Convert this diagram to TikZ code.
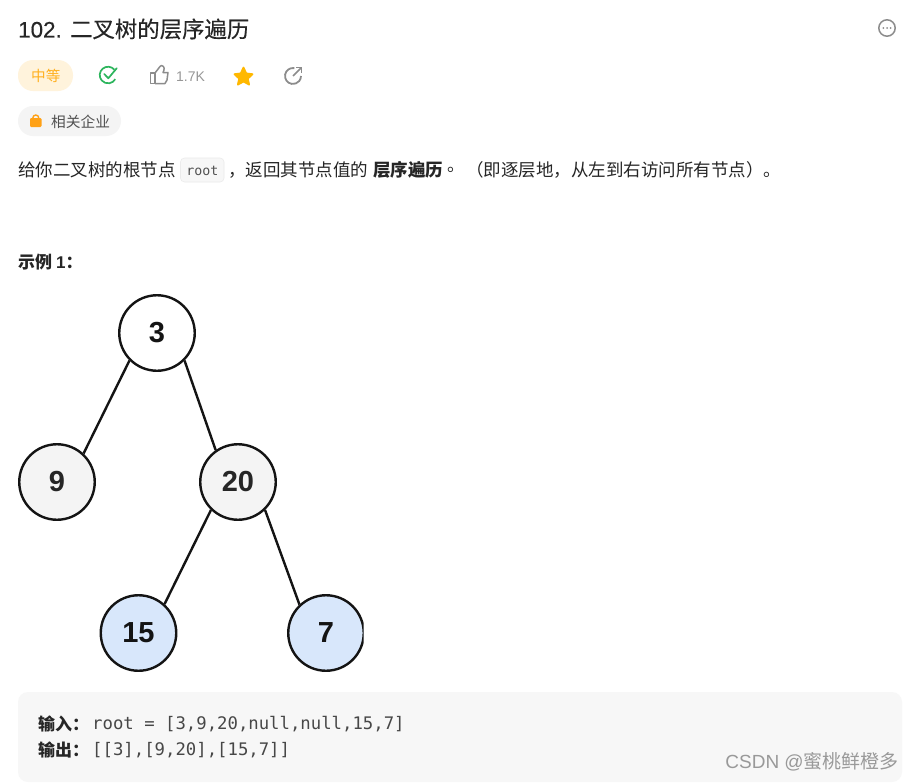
\documentclass[tikz,border=0pt]{standalone}
\usepackage{fontspec}
\setmainfont{Liberation Sans}
\newfontfamily\cjk{Noto Sans CJK SC}
\newcommand{\cjkb}{\cjk\bfseries}
\newfontfamily\mono{DejaVu Sans Mono}
\definecolor{ink}{HTML}{262626}
\definecolor{dark}{HTML}{141414}
\definecolor{gr}{HTML}{8C8C8C}
\definecolor{codebg}{HTML}{F7F7F7}
\definecolor{lblue}{HTML}{D8E7FB}
\definecolor{lgray}{HTML}{F4F4F4}
\definecolor{badge}{HTML}{FFF3DC}
\definecolor{amber}{HTML}{FFB01F}
\definecolor{star}{HTML}{FFB800}
\definecolor{okgreen}{HTML}{2DB55D}
\definecolor{lock}{HTML}{FFA116}
\tikzset{
 x=1pt,y=-1pt,
 tx/.style={anchor=west,inner sep=0pt,text=ink},
 tree/.style={circle,draw=dark,line width=2.4pt,minimum size=75.5pt,inner sep=0pt,font=\fontsize{29}{29}\selectfont\bfseries,text=dark},
 edge/.style={draw=dark,line width=2.4pt},
}
\newcommand{\fs}[1]{\fontsize{#1}{#1}\selectfont}
\begin{document}
\begin{tikzpicture}
\useasboundingbox (0,0) rectangle (913,782);
\fill[white] (0,0) rectangle (913,782);
% header
\node[tx] (title) at (18,29) {\fs{22.4}\addfontfeature{FakeBold=0.4}102. \cjk\addfontfeature{FakeBold=0.25} 二叉树的层序遍历};
\draw[gr,line width=1.5pt] (887,28) circle (8.2);
\foreach \dx in {-3.6,0,3.6}{\fill[gr] (887+\dx,28) circle (1);}
% badges
\fill[badge,rounded corners=15pt] (18,60) rectangle (73,91);
\node[tx,text=amber] (medium) at (31,76) {\fs{14.6}\cjk 中等};
% check
\draw[okgreen,line width=1.7pt] (114.4,69.7) arc (-40:-330:8.3);
\draw[okgreen,line width=1.7pt,line cap=round,line join=round] (104.3,74) -- (108.3,78.3) -- (116.7,68.3);
% thumb
\draw[gr,line width=1.5pt,line join=round] (150.5,73) rectangle (155,83.5);
\draw[gr,line width=1.5pt,line join=round] (155,73) -- (160,66.5) -- (161.5,65.5) .. controls (165,66) and (164.5,70) .. (163,72.5) -- (168,72.5) -- (167,80) -- (165,83.5) -- (155,83.5);
\node[tx,text=gr!90!white] (likes) at (176,77) {\fs{14}1.7K};
% star
\fill[star,draw=star,line width=1.8pt,line join=round] (243.5,67.5) -- (246.2,73.4) -- (252.5,74.2) -- (247.8,78.6) -- (249.1,84.6) -- (243.5,81.5) -- (237.9,84.6) -- (239.2,78.6) -- (234.5,74.2) -- (240.8,73.4) -- cycle;
% share
\draw[gr,line width=1.8pt] (294.4,68.1) arc (-80:-360:8);
\draw[gr,line width=1.6pt] (293,76) -- (301,68);
\draw[gr,line width=1.6pt] (296,67.5) -- (301.5,67.5) -- (301.5,73);
% company pill
\fill[lgray,rounded corners=15pt] (18,106) rectangle (121,136);
\fill[lock,rounded corners=1.2pt] (30,118) rectangle (41.5,127);
\draw[lock,line width=1.4pt] (32.8,118) arc (180:360:3);
\node[tx,text=ink!80!white] (company) at (51,121.5) {\fs{14.7}\cjk 相关企业};
% description
\node[tx] (d1) at (18,170) {\fs{17.5}\cjk 给你二叉树的根节点};
\fill[codebg,draw=black!8,rounded corners=4pt,line width=.6pt] (180.5,158) rectangle (224,182);
\node[anchor=center,inner sep=0pt,text=ink!80!white] (rootc) at (202.3,170.5) {\fs{13.3}\mono root};
\node[tx] (d2) at (228,170) {\fs{17.5}\cjk ，返回其节点值的};
\node[tx] (d3) at (373,170) {\fs{17.5}\cjkb 层序遍历};
\node[tx] (d4) at (447,170) {\fs{17.5}\cjk 。};
\node[tx] (d5) at (466,170) {\fs{17.5}\cjk （即逐层地，从左到右访问所有节点）。};
\node[tx] (ex) at (18,262) {\fs{17}\cjkb 示例 \rmfamily\bfseries 1\cjkb ：};
% tree
\begin{scope}
\clip (0,285) rectangle (363.5,680);
\node[tree,fill=white] (n3) at (157,333) {3};
\node[tree,fill=lgray,text=ink] (n9) at (57,482) {9};
\node[tree,fill=lgray,text=ink] (n20) at (238,482) {20};
\node[tree,fill=lblue] (n15) at (138.5,633) {15};
\node[tree,fill=lblue] (n7) at (326,633) {7};
\draw[edge] (n3.225) -- (n9.47);
\draw[edge] (n3.-45) -- (n20.125);
\draw[edge] (n20.226) -- (n15.48);
\draw[edge] (n20.-46) -- (n7.133);
\end{scope}
% example box
\fill[codebg,rounded corners=10pt] (18,692) rectangle (902,782);
\node[tx] (in) at (38,724) {\fs{17}\cjkb 输入：};
\node[tx,text=ink!85!white] (inv) at (92,724) {\fs{17.3}\mono root = [3,9,20,null,null,15,7]};
\node[tx] (out) at (38,750) {\fs{17}\cjkb 输出：};
\node[tx,text=ink!85!white] (outv) at (92,750) {\fs{17.3}\mono [[3],[9,20],[15,7]]};
\node[anchor=east,inner sep=0pt,text=black!40] (wm) at (899,762) {\fs{19}CSDN @\cjk 蜜桃鲜橙多};
\end{tikzpicture}
\end{document}
